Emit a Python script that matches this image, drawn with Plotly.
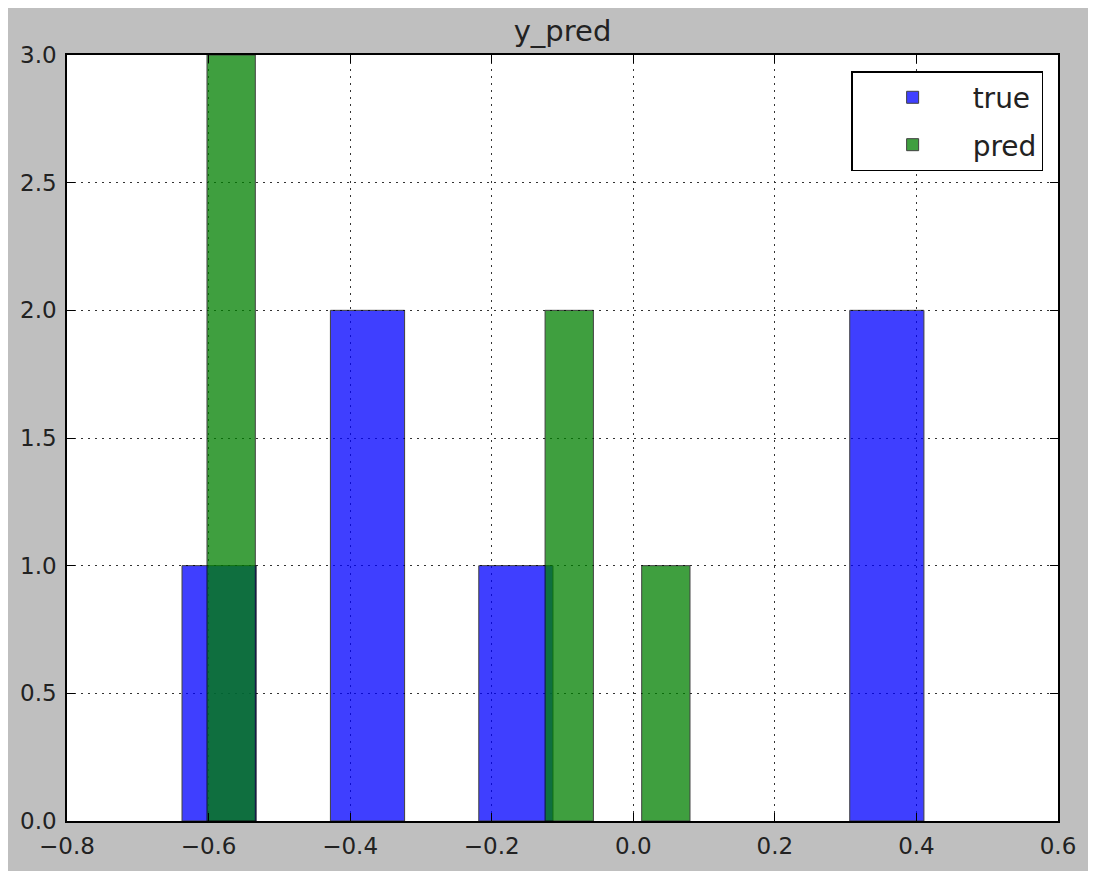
import plotly.graph_objects as go
import numpy as np

# histogram data (10 bins between min and max of each series)
true_min, true_max = -0.6375, 0.4106
true_counts = [1, 0, 2, 0, 1, 0, 0, 0, 0, 2]

pred_min, pred_max = -0.6022, 0.0801
pred_counts = [3, 0, 0, 0, 0, 0, 0, 2, 0, 1]

x_ticks = [-0.8, -0.6, -0.4, -0.2, 0.0, 0.2, 0.4, 0.6]
y_ticks = [0.0, 0.5, 1.0, 1.5, 2.0, 2.5, 3.0]


def hist_bars(lo, hi, counts, name, color):
    edges = np.linspace(lo, hi, len(counts) + 1)
    w = edges[1] - edges[0]
    counts = np.array(counts)
    keep = counts > 0  # empty bins draw nothing
    return go.Bar(x=edges[:-1][keep], y=counts[keep], width=w, offset=0, name=name,
                  legendgroup=name,
                  marker=dict(color=color, line=dict(color='black', width=1)),
                  opacity=0.75)


fig = go.Figure()
fig.add_trace(hist_bars(true_min, true_max, true_counts, 'true', 'rgb(0,0,255)'))
fig.add_trace(hist_bars(pred_min, pred_max, pred_counts, 'pred', 'rgb(0,128,0)'))

axis_style = dict(showline=True, linecolor='black', linewidth=1.5, mirror='ticks',
                  ticks='inside', ticklen=8, tickcolor='black',
                  showgrid=True, gridcolor='#333333', griddash='2px,5px', gridwidth=1,
                  zeroline=False, tickformat='.1f', ticklabelstandoff=4,
                  tickfont=dict(size=23, color='#222222'))

fig.update_xaxes(range=[-0.8, 0.6], tickvals=x_ticks, **axis_style)
fig.update_yaxes(range=[0, 3.0], tickvals=y_ticks, **axis_style)

# page has an 8px body margin, so the figure is shrunk by that much
fig.update_layout(
    width=1088, height=863,
    barmode='overlay',
    paper_bgcolor='#bfbfbf', plot_bgcolor='white',
    margin=dict(l=59, r=38, t=47, b=41),
    font=dict(family='DejaVu Sans', color='#222222'),
    title=dict(text='y_pred', x=0.5, xref='paper', xanchor='center',
               y=1 - 23 / 863, yref='container', yanchor='middle',
               font=dict(size=29, color='#222222')),
    legend=dict(x=0.985, y=0.979, xanchor='right', yanchor='top',
                bgcolor='white', bordercolor='black', borderwidth=1.5,
                font=dict(size=28, color='#222222'), itemwidth=110,
                tracegroupgap=8),
)

fig.write_html("out.html")
